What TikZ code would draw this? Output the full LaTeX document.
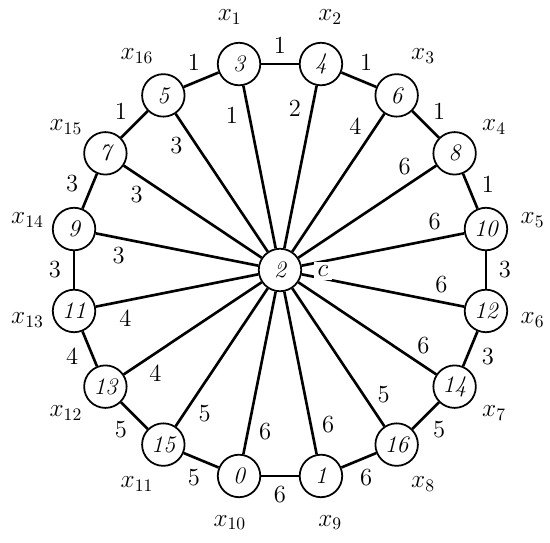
\documentclass[tikz,border=0pt]{standalone}
\usepackage{amsmath,amssymb}
\usetikzlibrary{positioning}

\begin{document}
\begin{tikzpicture}[
  vnode/.style={draw,circle,line width=1pt,fill=white,minimum size=8.5mm,inner sep=0pt,
    font=\fontsize{13.5}{16}\selectfont\itshape},
  wlab/.style={inner sep=1pt,font=\fontsize{14}{17}\selectfont},
  xlab/.style={inner sep=1pt,font=\fontsize{14}{17}\selectfont},
  edge/.style={line width=1.5pt}]
\useasboundingbox (-5.6,-5.46) rectangle (5.4,5.4);
\node[vnode] (c) at (0,0) {2};
% outer vertices, spokes and their weights
\foreach \i/\lab/\sw in {1/3/1,2/4/2,3/6/4,4/8/6,5/10/6,6/12/6,7/14/6,8/16/5,
    9/1/6,10/0/6,11/15/5,12/13/4,13/11/4,14/9/3,15/7/3,16/5/3} {
  \pgfmathsetmacro\ang{101.25-22.5*(\i-1)}
  \node[vnode] (v\i) at (\ang:4.2) {\lab};
  \node[xlab] (x\i) at (\ang:5.15) {$x_{\i}$};
  \draw[edge] (c) -- (v\i);
  \node[wlab] (s\i) at (\ang+6:3.24) {\sw};
}
% rim edges
\foreach \i/\rw in {1/1,2/1,3/1,4/1,5/3,6/3,7/5,8/6,9/6,10/5,11/5,12/4,13/3,14/3,15/1,16/1} {
  \pgfmathtruncatemacro\j{mod(\i,16)+1}
  \pgfmathsetmacro\ang{101.25-22.5*(\i-1)-11.25}
  \draw[edge] (v\i) -- (v\j);
  \node[wlab] (r\i) at (\ang:4.5) {\rw};
}
\node[fill=white,inner sep=2pt,font=\fontsize{14}{17}\selectfont] (clab) at (0.86,-0.02) {$c$};
\end{tikzpicture}
\end{document}
